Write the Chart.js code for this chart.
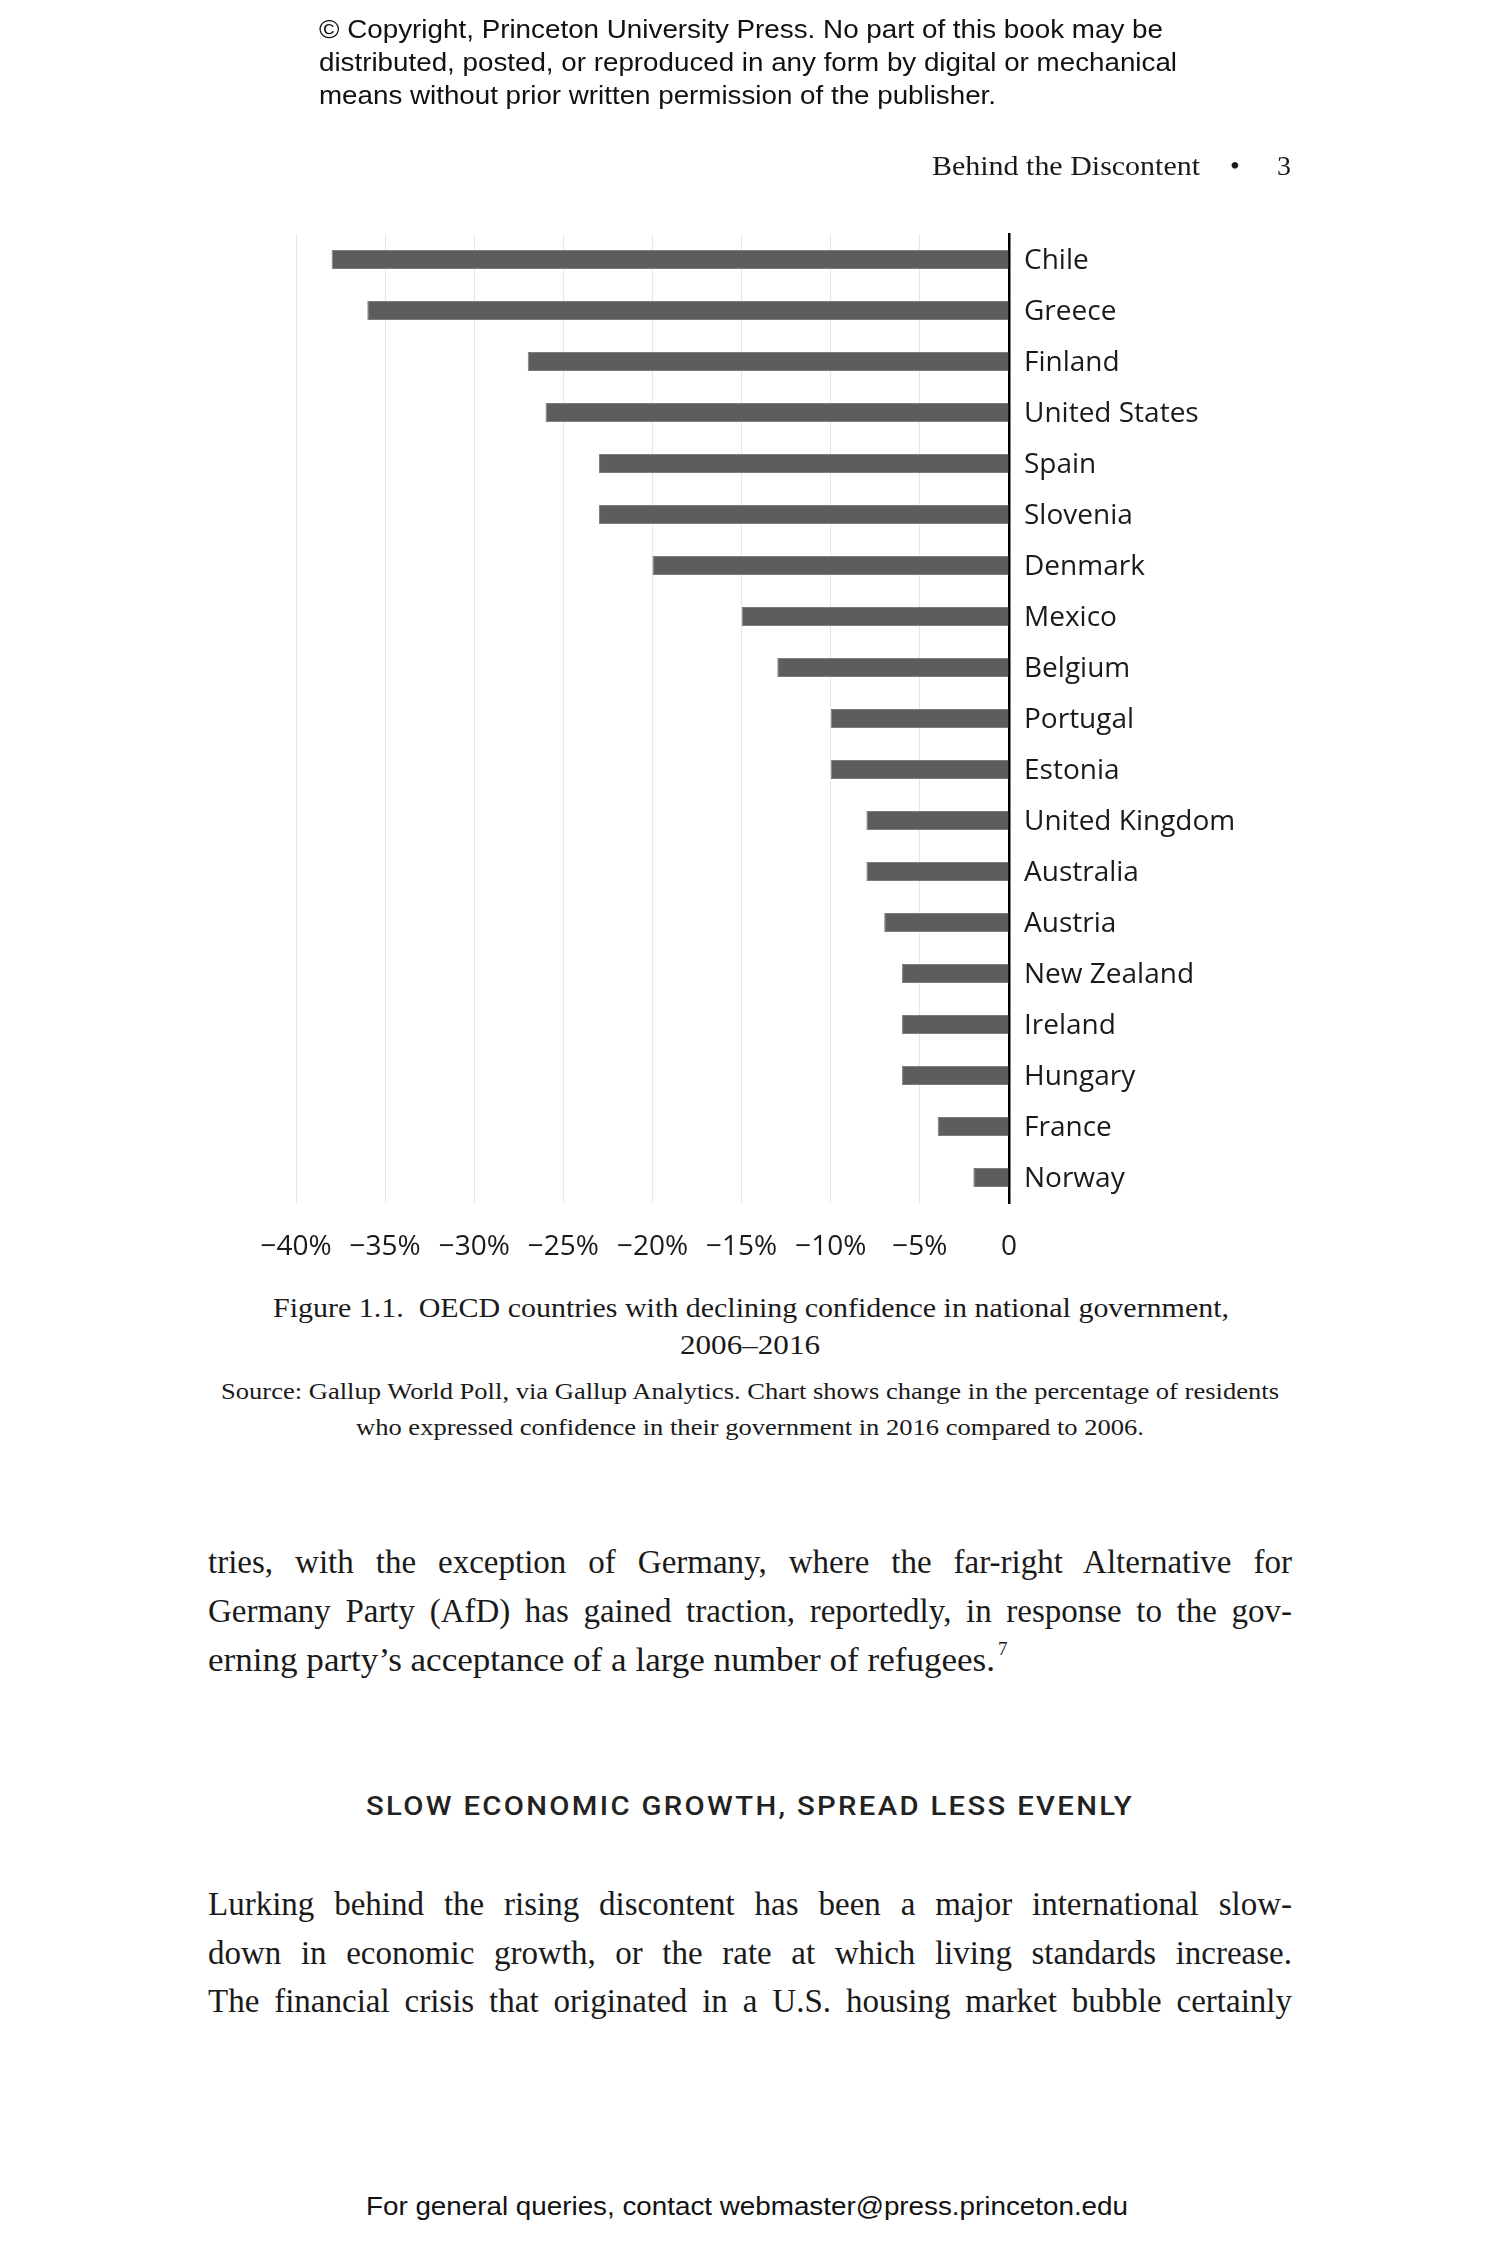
<!DOCTYPE html>
<html>
<head>
<meta charset="utf-8">
<script src="https://cdn.jsdelivr.net/npm/chart.js@4"></script>
<style>
  html, body { margin: 0; padding: 0; background: #fff; }
  body { width: 1500px; height: 2250px; position: relative; overflow: hidden; }
  #chart { position: absolute; left: 0; top: 0; }
  .t { position: absolute; white-space: nowrap; color: #1a1a1a; line-height: 1; transform-origin: 0 50%; }
  .sans { font-family: "Liberation Sans", Arial, sans-serif; font-size: 26px; color: #111; }
  .serif { font-family: "Liberation Serif", serif; }
  .head { font-family: Roboto, sans-serif; font-size: 25px; font-weight: 500; letter-spacing: 2px; color: #222; }
</style>
</head>
<body>
<canvas id="chart" width="1500" height="1290"></canvas>

<!-- 页面文字：x=左边, w=目标宽度, y=行中心 -->
<div class="t sans" data-x="319" data-w="844" data-y="30">© Copyright, Princeton University Press. No part of this book may be</div>
<div class="t sans" data-x="319" data-w="858" data-y="63">distributed, posted, or reproduced in any form by digital or mechanical</div>
<div class="t sans" data-x="319" data-w="677" data-y="96">means without prior written permission of the publisher.</div>

<div class="t serif" style="font-size:28px" data-x="932" data-w="268" data-y="167">Behind the Discontent</div>
<div class="t serif" style="font-size:28px" data-x="1230" data-y="167">•</div>
<div class="t serif" style="font-size:28px" data-x="1277" data-y="167">3</div>

<div class="t serif" style="font-size:28px" data-x="273" data-w="956" data-y="1309">Figure 1.1.&nbsp; OECD countries with declining confidence in national government,</div>
<div class="t serif" style="font-size:28px" data-x="680" data-w="140" data-y="1346">2006–2016</div>
<div class="t serif" style="font-size:23px" data-x="221" data-w="1058" data-y="1393">Source: Gallup World Poll, via Gallup Analytics. Chart shows change in the percentage of residents</div>
<div class="t serif" style="font-size:23px" data-x="356" data-w="788" data-y="1429">who expressed confidence in their government in 2016 compared to 2006.</div>

<div class="t serif" style="font-size:33px" data-x="208" data-w="1084" data-j="1" data-y="1564">tries, with the exception of Germany, where the far-right Alternative for</div>
<div class="t serif" style="font-size:33px" data-x="208" data-w="1084" data-j="1" data-y="1613">Germany Party (AfD) has gained traction, reportedly, in response to the gov-</div>
<div class="t serif" style="font-size:33px" data-x="208" data-w="787" data-y="1662">erning party’s acceptance of a large number of refugees.</div>
<div class="t serif" style="font-size:19px" data-x="998" data-y="1649">7</div>

<div class="t head" data-x="366" data-w="768" data-y="1808">SLOW ECONOMIC GROWTH, SPREAD LESS EVENLY</div>

<div class="t serif" style="font-size:33px" data-x="208" data-w="1084" data-j="1" data-y="1906">Lurking behind the rising discontent has been a major international slow-</div>
<div class="t serif" style="font-size:33px" data-x="208" data-w="1084" data-j="1" data-y="1955">down in economic growth, or the rate at which living standards increase.</div>
<div class="t serif" style="font-size:33px" data-x="208" data-w="1084" data-j="1" data-y="2003">The financial crisis that originated in a U.S. housing market bubble certainly</div>

<div class="t sans" data-x="366" data-w="762" data-y="2207">For general queries, contact webmaster@press.princeton.edu</div>

<script>
// 数据
const countries = ['Chile', 'Greece', 'Finland', 'United States', 'Spain', 'Slovenia', 'Denmark',
  'Mexico', 'Belgium', 'Portugal', 'Estonia', 'United Kingdom', 'Australia', 'Austria',
  'New Zealand', 'Ireland', 'Hungary', 'France', 'Norway'];
const changePct = [-38, -36, -27, -26, -23, -23, -20, -15, -13, -10, -10, -8, -8, -7, -6, -6, -6, -4, -2];
const xTickLabels = ['−40%', '−35%', '−30%', '−25%', '−20%', '−15%', '−10%', '−5%', '0'];

// 页面文字排版
document.querySelectorAll('.t').forEach(el => {
  el.style.left = el.dataset.x + 'px';
  const fs = parseFloat(getComputedStyle(el).fontSize);
  el.style.top = (+el.dataset.y - fs * 0.55) + 'px';
  if (!el.dataset.w) return;
  const target = +el.dataset.w;
  const natural = el.getBoundingClientRect().width;
  const spaces = (el.textContent.match(/ /g) || []).length;
  if (el.dataset.j && natural < target && spaces) {
    el.style.wordSpacing = ((target - natural) / spaces) + 'px';
  } else {
    el.style.transform = 'scaleX(' + (target / natural) + ')';
  }
});

function draw() {
  const ctx = document.getElementById('chart').getContext('2d');
  new Chart(ctx, {
    type: 'bar',
    data: {
      labels: countries,
      datasets: [{
        data: changePct,
        backgroundColor: '#5d5d5d',
        borderColor: '#7d7d7d',
        borderWidth: 1,
        categoryPercentage: 1,
        barPercentage: 0.37,
      }],
    },
    options: {
      indexAxis: 'y',
      responsive: false,
      animation: false,
      devicePixelRatio: 1,
      layout: { padding: { left: 296, top: 234, right: 0, bottom: 0 } },
      plugins: { legend: { display: false }, tooltip: { enabled: false } },
      scales: {
        x: {
          min: -40,
          max: 0,
          afterFit: s => { s.height = 87; },
          ticks: {
            stepSize: 5,
            padding: 27,
            color: '#1a1a1a',
            font: { family: 'Open Sans', size: 28 },
            callback: (v, i) => xTickLabels[i],
            maxRotation: 0,
          },
          grid: { color: '#e6e6e6', lineWidth: 1, drawTicks: false },
          border: { display: false },
        },
        y: {
          position: 'right',
          afterFit: s => { s.width = 491; },
          ticks: {
            padding: 15,
            labelOffset: 2,
            color: '#1a1a1a',
            font: { family: 'Open Sans', size: 28 },
          },
          grid: { drawOnChartArea: false, drawTicks: false },
          border: { display: true, color: '#000', width: 2.5 },
        },
      },
    },
  });
}

document.fonts.load('28px "Open Sans"').then(draw, draw);
</script>
</body>
</html>
